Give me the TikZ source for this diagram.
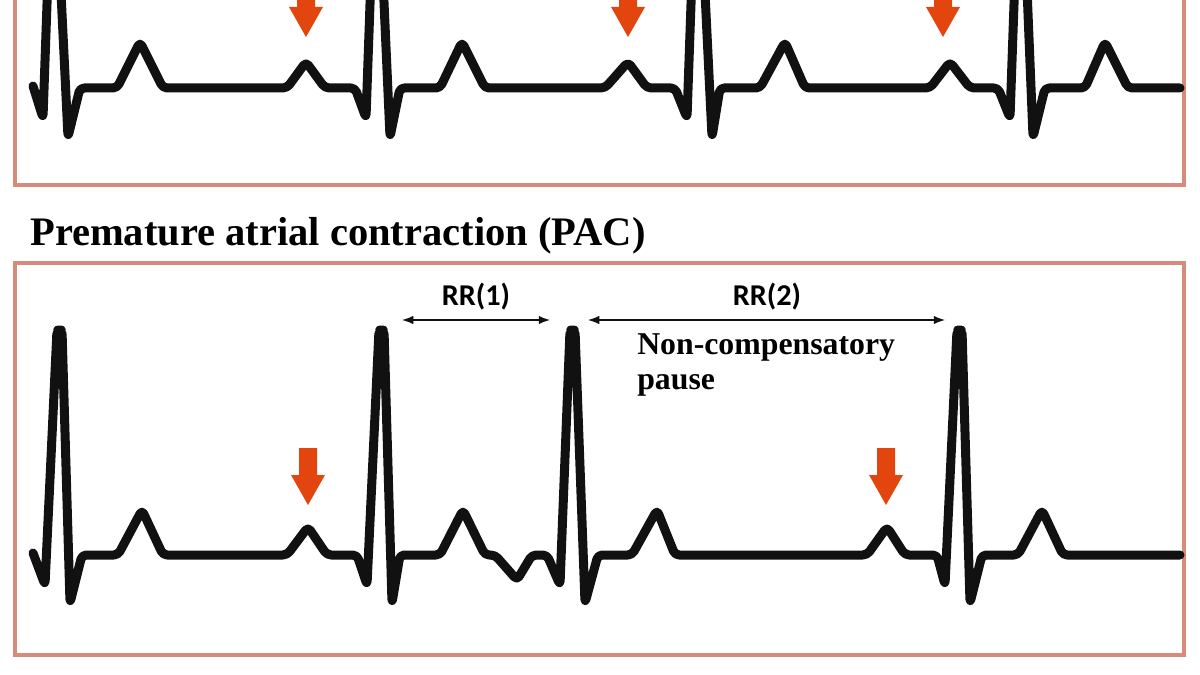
\documentclass[tikz,border=0pt]{standalone}
\usepackage{fontspec}
\usepackage{xcolor}
\usepackage{tikz}
\usetikzlibrary{arrows.meta}
\setmainfont{Liberation Serif}
\newfontfamily\rrfont{Carlito}
\definecolor{ecgframe}{HTML}{D98B7B}
\definecolor{ecgred}{HTML}{E3450F}
\definecolor{ecgink}{HTML}{111111}

% downward marker over a P wave: x, top of shaft, tip
\newcommand{\pmark}[3]{%
  \fill[ecgred] (#1-9,#2) -- (#1+9,#2) -- (#1+9,#3-30) -- (#1+17,#3-30)
    -- (#1,#3) -- (#1-17,#3-30) -- (#1-9,#3-30) -- cycle;}

\begin{document}
\begin{tikzpicture}[x=0.025cm, y=-0.025cm,
    trace/.style={ecgink, line width=6.4pt, line join=round, line cap=round, rounded corners=3pt},
    frame/.style={ecgframe, line width=2.8pt},
    rrline/.style={ecgink, line width=0.9pt, {Latex[length=8pt,width=6pt]}-{Latex[length=8pt,width=6pt]}}]
    \useasboundingbox (0,0) rectangle (1200,675);
    \clip (0,0) rectangle (1200,675);

    % normal rhythm (top panel)
    \draw[frame] (15,-20) rectangle (1184,185);
    \draw[trace] (33,86) -- (43,118) -- (51,-110) -- (56,-110) -- (68,137) -- (80,88)
      -- (117,88) -- (140,42) -- (163,88) -- (287,88) -- (306,62) -- (325,88) -- (355,88)
      -- (366,118) -- (374,-110) -- (379,-110) -- (390,137) -- (400,88)
      -- (440,88) -- (462,42) -- (485,88) -- (605,88) -- (628,62) -- (647,88) -- (675,88)
      -- (687,118) -- (695,-110) -- (700,-110) -- (712,137) -- (720,88)
      -- (760,88) -- (785,42) -- (805,88) -- (930,88) -- (950,62) -- (970,88) -- (998,88)
      -- (1010,118) -- (1018,-110) -- (1023,-110) -- (1033,137) -- (1045,88)
      -- (1085,88) -- (1105,42) -- (1128,88) -- (1180,88);
    \foreach \px in {306,628,943} {\pmark{\px}{-10}{37}}

    \node[font=\bfseries\fontsize{28.8}{32}\selectfont, inner sep=0pt, anchor=base west]
      (title) at (30,245) {Premature atrial contraction (PAC)};

    % PAC rhythm (bottom panel)
    \draw[frame] (15,263) rectangle (1184,655);
    \draw[trace] (33,553) -- (45,585) -- (57,330) -- (62,330) -- (70,603) -- (82,555)
      -- (118,555) -- (142,510) -- (163,555) -- (287,555) -- (308,527) -- (327,555) -- (357,555)
      -- (367,585) -- (379,330) -- (384,330) -- (392,603) -- (400,555)
      -- (440,555) -- (463,510) -- (485,555) -- (495,555) -- (517,580) -- (532,555) -- (547,555)
      -- (560,585) -- (570,330) -- (575,330) -- (585,603) -- (598,555)
      -- (632,555) -- (657,510) -- (675,555) -- (867,555) -- (887,527) -- (905,555) -- (937,555)
      -- (945,585) -- (957,330) -- (962,330) -- (970,603) -- (982,555)
      -- (1018,555) -- (1042,510) -- (1063,555) -- (1180,555);
    \pmark{308}{448}{505}
    \pmark{886}{448}{505}

    \coordinate (rr1a) at (402,320);
    \coordinate (rr1b) at (550,320);
    \coordinate (rr2a) at (588,320);
    \coordinate (rr2b) at (945,320);
    \draw[rrline] (rr1a) -- (rr1b);
    \draw[rrline] (rr2a) -- (rr2b);
    \node[font=\rrfont\bfseries\fontsize{21.5}{24}\selectfont, inner sep=0pt, anchor=base]
      (rr1) at (476,305) {RR(1)};
    \node[font=\rrfont\bfseries\fontsize{21.5}{24}\selectfont, inner sep=0pt, anchor=base]
      (rr2) at (767,305) {RR(2)};
    \node[font=\bfseries\fontsize{22.6}{25}\selectfont, inner sep=0pt, anchor=north west, align=left]
      (pause) at (637,333) {Non-compensatory\\pause};
\end{tikzpicture}
\end{document}
